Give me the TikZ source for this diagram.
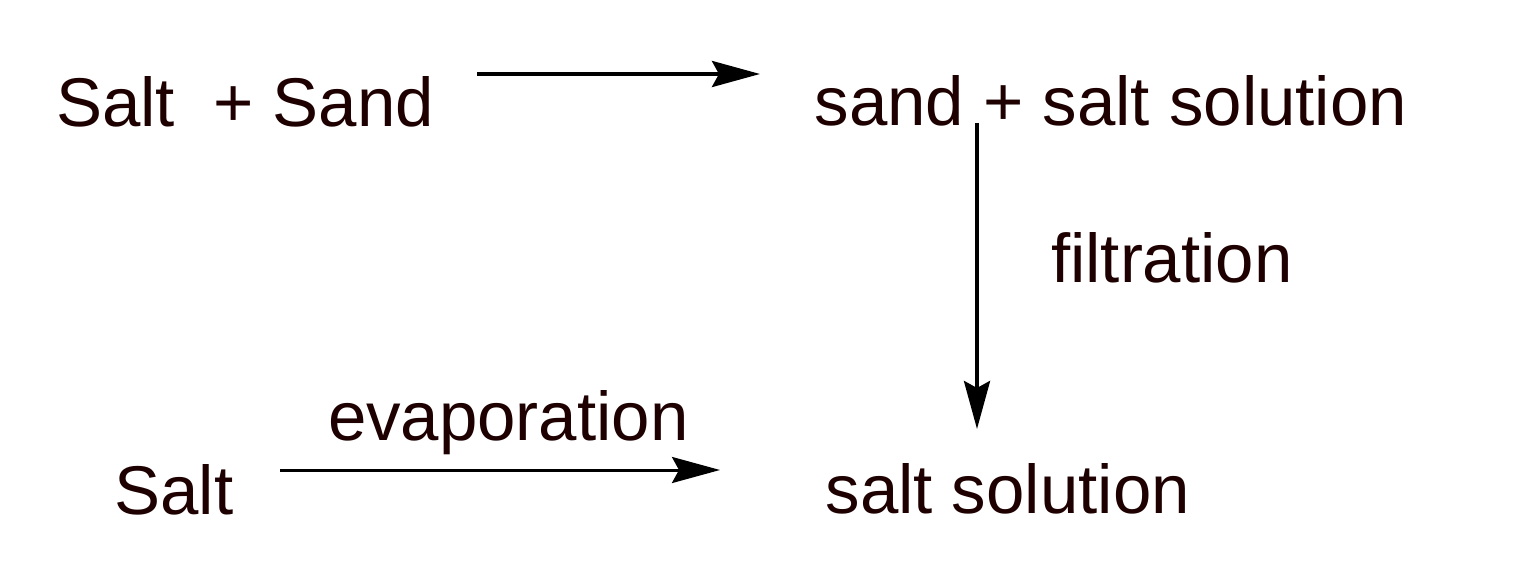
\documentclass[tikz,border=0pt]{standalone}
\usepackage{fontspec}
\setmainfont{Liberation Sans}
\usetikzlibrary{arrows.meta}
\definecolor{txt}{RGB}{30,0,0}
\begin{document}
\begin{tikzpicture}[x=1pt,y=-1pt,
  lbl/.style={anchor=base west,inner sep=0pt,outer sep=0pt,text=txt,font=\fontsize{69}{83}\selectfont},
  arr/.style={line width=4pt,-{Stealth[length=48pt,width=26pt,inset=7pt]}}]
\useasboundingbox[fill=white] (0,0) rectangle (1536,564);
\node[lbl] (n1) at (56,127) {Salt\ \ + Sand};
\node[lbl] (n2) at (814.5,126) {sand + salt solution};
\node[lbl] (n3) at (1051,282) {filtration};
\node[lbl] (n4) at (328,440) {evaporation};
\node[lbl] (n5) at (114.5,514) {Salt};
\node[lbl] (n6) at (825.5,513) {salt solution};
\coordinate (a1s) at (477,74);
\coordinate (a1e) at (760,74);
\coordinate (a2s) at (977,123);
\coordinate (a2e) at (977,429);
\coordinate (a3s) at (280,470);
\coordinate (a3e) at (720,470);
\draw[arr] (a1s) -- (a1e);
\draw[arr] (a2s) -- (a2e);
\draw[arr,line width=3pt] (a3s) -- (a3e);
\end{tikzpicture}
\end{document}
